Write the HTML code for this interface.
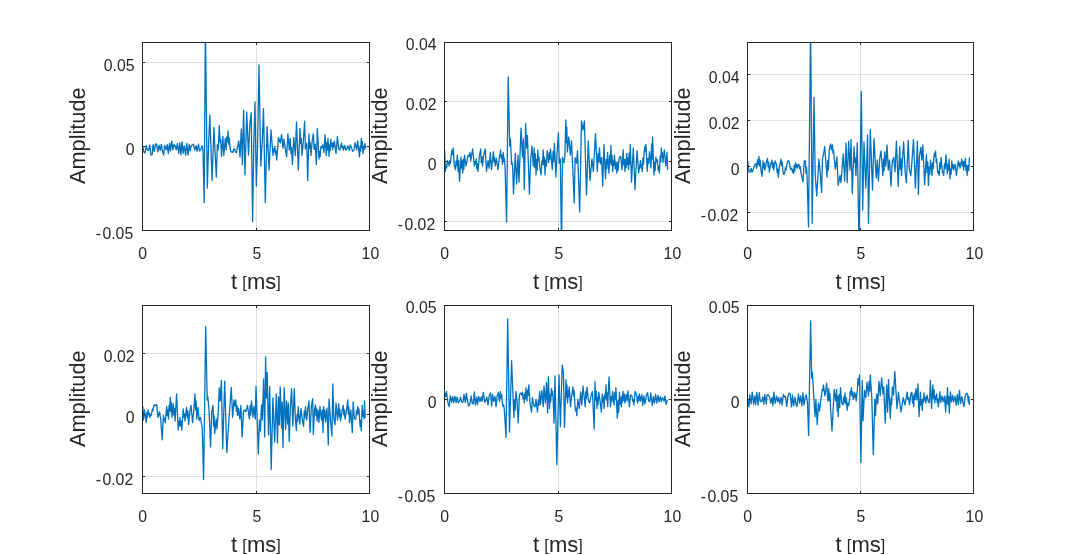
<!DOCTYPE html>
<html lang="en"><head><meta charset="utf-8"><title>Amplitude vs t [ms]</title>
<style>html,body{margin:0;padding:0;background:#fff;overflow:hidden}svg{display:block}</style></head>
<body>
<svg width="1076" height="555" viewBox="0 0 1076 555">
<rect width="1076" height="555" fill="#fff"/>
<clipPath id="c0"><rect x="142.5" y="42.5" width="227.0" height="188.0"/></clipPath>
<path d="M142.5 62.5H369.5M142.5 146.5H369.5M256.5 42.5V230.5" stroke="#dfdfdf" stroke-width="1" fill="none"/>
<path d="M142.8,147 143.9,152.1 145.1,153 146.1,145.5 147.3,149.8 148.6,150.4 149.8,145 150.9,155.2 152.2,154.3 153.1,144.5 154.2,151.4 155.6,143.8 156.5,143.8 157.9,151.9 159,145.2 160.3,150.4 161.3,144.3 162.6,151.6 163.6,155.2 164.7,145.4 166.1,149.9 167.3,144.6 168.3,153.6 169.6,143.3 170.4,150.8 171.8,141.2 172.9,150 173.9,144.6 175,145.8 176.2,149.8 177.4,143.5 178.7,153.5 179.8,142.9 180.9,154.9 182,141.7 183.2,153.4 184.3,145.9 185.6,155.2 186.8,143.5 188,155.2 189.3,144.3 190.2,150.8 191.2,145.5 192.5,144.9 193.5,144.1 194.7,150.2 196.1,145.7 197.1,151.3 198.5,144.1 199.5,150.9 200.6,149.9 202,145.9 203,150 204.2,202.6 205.4,25 207.3,188 208.6,144.7 209.8,115 212.1,180.7 213.9,127.5 215.1,152.1 216.3,177 217.4,144.6 218.2,149.9 219.3,125.7 220.1,142.7 220.7,139.3 221.5,156.4 222.9,136.5 223.8,155.5 225.3,138.3 226.2,150 226.8,137 227.4,141.8 228,131 228.7,144.1 229.3,137.9 230,148 230.9,151.9 232,152 232.9,152.4 233.7,149 234.6,148.9 235.5,152 236.5,152.6 237.3,148 238.8,141 240,157 241.3,129 242.4,164.5 243.6,110.4 245,175 246.7,112 248.5,155 249.8,125 251.2,112.6 252.6,221.7 253.8,144 255,102 256.3,186 257.6,144.4 259,65 260.8,166 262.3,140.3 263.5,108.6 265.3,202.6 267.1,126.6 269.1,170 271,130 273,155.5 273.7,148.7 274.2,151.7 274.9,146.5 275.5,154.4 276.1,150.9 276.7,160 278.5,137.4 279.1,141.3 279.7,139.6 280.3,143 281.6,134.7 283,148.3 283.9,139.2 285.4,148.9 286.6,157 287.9,133.8 289.3,150 290.2,138.3 291,153.6 291.6,147.6 292.4,164.5 293.8,137.4 295.3,155.5 296.5,122 298.3,170 300,128.4 300.7,143.7 301.3,138.4 302,155.5 303.2,143.3 304.6,121.2 305.4,149.2 306.8,143.1 307.7,180.7 309,134 309.7,148.4 310.3,142.5 311,155.5 312.3,139.8 313.3,133.8 314.2,149.3 315.2,144.1 316.4,164.5 317.3,128.4 319,159 319.7,151.5 320.2,156.4 320.9,146.5 321.6,148 322.7,144.6 324,152.4 325,134.7 326.3,155.5 326.9,142.1 327.4,150.2 328,138.3 329,156.4 329.6,144.8 330.2,150.8 330.8,139.2 331.4,146.4 332,142.8 332.6,150 333.2,142.9 333.8,146.6 334.4,141 336,153.7 337.4,136.5 338.7,149.1 339.8,150 341.6,143 342.2,147.8 342.8,146.1 343.4,150 344.7,145.3 345.8,150.1 346.8,149 347.9,146 349.3,150.5 350.3,144.9 351.4,147.4 352.6,151.4 354,150 355.1,142.6 356.7,149.9 357.7,141 359.5,157 360.1,146.1 360.7,151.2 361.3,138.3 361.9,147.7 362.4,141.7 363,153.7 363.7,146.2 364.2,149.5 364.9,143.7 365.8,148.3" clip-path="url(#c0)" stroke="#0072bd" stroke-width="1.3" fill="none" stroke-linejoin="round"/>
<rect x="142.5" y="42.5" width="227.0" height="188.0" fill="none" stroke="#262626" stroke-width="1"/>
<path d="M256.5 230.5v-2.6M256.5 42.5v2.6M142.5 62.5h2.6M369.5 62.5h-2.6M142.5 146.5h2.6M369.5 146.5h-2.6" stroke="#262626" stroke-width="1" fill="none"/>
<text x="134.5" y="70.9" text-anchor="end" font-family="'Liberation Sans', sans-serif" font-size="15.8" fill="#262626">0.05</text>
<text x="134.5" y="154.8" text-anchor="end" font-family="'Liberation Sans', sans-serif" font-size="15.8" fill="#262626">0</text>
<text x="133.2" y="238.7" text-anchor="end" font-family="'Liberation Sans', sans-serif" font-size="15.8" fill="#262626">-<tspan dx="1.4">0.05</tspan></text>
<text x="142.6" y="259.1" text-anchor="middle" font-family="'Liberation Sans', sans-serif" font-size="15.8" fill="#262626">0</text>
<text x="256.8" y="259.1" text-anchor="middle" font-family="'Liberation Sans', sans-serif" font-size="15.8" fill="#262626">5</text>
<text x="370.4" y="259.1" text-anchor="middle" font-family="'Liberation Sans', sans-serif" font-size="15.8" fill="#262626">10</text>
<text x="255.9" y="288.9" text-anchor="middle" font-family="'Liberation Sans', sans-serif" font-size="22" fill="#262626">t <tspan font-size="16.2" dy="-1.3" dx="-1.1">[</tspan><tspan dy="1.3" dx="0.3">ms</tspan><tspan font-size="16.2" dy="-1.3">]</tspan></text>
<text transform="translate(85 135.7) rotate(-90)" text-anchor="middle" font-family="'Liberation Sans', sans-serif" font-size="21.7" fill="#262626">Amplitude</text>
<clipPath id="c1"><rect x="444.5" y="42.5" width="227.0" height="188.0"/></clipPath>
<path d="M444.5 101.5H671.5M444.5 161.5H671.5M444.5 221.5H671.5M558.5 42.5V230.5" stroke="#dfdfdf" stroke-width="1" fill="none"/>
<path d="M444.7,150.7 445.3,171.5 446.1,165.2 446.6,167.9 447.4,160.6 448,163.7 448.6,161.9 449.2,166 449.8,160.6 450.4,163.5 451,157 451.8,150.3 452.4,154.5 453.2,148 454.2,164.9 455.5,169.7 456.1,161.1 456.7,165.5 457.3,155.2 458.1,171.3 458.7,160.5 459.5,181.4 461,157 461.6,168 462.1,161 462.7,173 463.3,159.1 463.9,169 464.5,155.2 466,166 468.1,155.2 469,156.3 470,152.5 470.8,160.6 472.6,149 474.4,166 475,161.7 475.6,164.1 476.2,158.8 476.8,168.6 477.4,163.7 478,171.5 479.4,155.7 480.7,149 481.3,162.6 481.9,156.6 482.5,166 483.7,154.8 485.2,149 486.5,171.5 488,160.6 489.1,168.2 490.3,152.5 491.5,169.7 493.4,151.6 494,161.8 494.6,157.6 495.2,166 496.4,158.5 497.9,169.7 499.3,158.3 500.6,149.8 501.2,158 501.8,155.1 502.4,164.3 503.3,152.5 503.9,161.6 504.4,158.5 505,166 506.6,222 508.2,77 509.7,146 510.5,139 511.6,164.3 512.5,163.3 513.5,194 515.3,153.4 516.6,184 518,155.2 519,182.3 521,128.2 522.5,157 523.4,139 524.3,189.5 525.6,123.7 526.7,148 527.4,135.4 529.4,194 530.7,159 532,146 533.3,166 534.2,148 534.8,167.5 535.4,153.7 536,175 536.6,159.6 537.2,170 537.8,150 538.4,160.1 539,157.1 539.6,166 541,175 541.8,161 542.4,164.5 543.2,150 543.8,164.9 544.4,157.1 545,175 545.8,159.9 546.4,166.2 547.2,150.7 548.6,162.5 549.3,152.5 549.8,159.5 550.5,149 552.3,169.7 553.1,151.4 553.6,161.9 554.4,143.5 555.9,177 557,154.5 558.4,132.7 559.3,163.2 560.3,158.8 561.5,245 562.5,157.1 563.8,162.9 564.8,157.7 565.8,120 566.4,142.6 566.8,127.1 567.4,152 568.8,137 570.4,155 571.5,141 572.7,166.7 574.2,203 575.1,157.7 576.5,163.2 577.5,150.7 579.7,212 581.5,121 583,130 584.4,121 586.5,195 588.3,140.8 590,180.5 591.9,159 593.4,171.5 595.5,133.6 597.3,171.5 598.1,153.3 598.7,162.2 599.5,148 600.4,163.9 601.6,157.4 602.7,186 604,144.4 605.5,178.7 606.3,159.3 606.8,168.7 607.6,152.5 609,173 609.7,155.8 610.2,163.2 610.9,145.3 611.5,165.1 612.1,155.2 612.7,171.5 613.3,160.8 613.9,165.4 614.5,155.2 615.3,169 616,162.1 616.8,173 617.6,162.5 618.2,170.1 619,159 620,156.4 620.8,157 622,169.7 623.2,150 623.8,165.2 624.4,159.5 625,171.5 625.6,159.5 626.1,167.7 626.7,153.4 627.3,164.5 627.9,157.7 628.5,169.7 629.1,152.9 629.7,164.2 630.3,144.4 631.5,182 633.3,148 635,189.5 637,150.7 638.7,173 640.5,160.6 641.1,168 641.7,164.8 642.3,171.5 642.9,157.9 643.5,164.1 644.1,153.4 644.8,146.7 645.3,151.1 646,144.4 647.2,171.5 648,158.3 648.7,163.3 649.5,151.6 651,167.9 651.6,143.9 652,159.5 652.6,137 654,175 654.7,162.3 655.2,170.5 655.9,157 656.5,161.6 657.1,159.6 657.7,164.3 658.3,170.4 658.9,166.3 659.5,173 660.1,156.2 660.7,161.9 661.3,148 661.9,156.8 662.4,152.7 663,162.5 664.3,149.8 665.8,166 667,152.5 667.6,169.7" clip-path="url(#c1)" stroke="#0072bd" stroke-width="1.3" fill="none" stroke-linejoin="round"/>
<rect x="444.5" y="42.5" width="227.0" height="188.0" fill="none" stroke="#262626" stroke-width="1"/>
<path d="M558.5 230.5v-2.6M558.5 42.5v2.6M444.5 101.5h2.6M671.5 101.5h-2.6M444.5 161.5h2.6M671.5 161.5h-2.6M444.5 221.5h2.6M671.5 221.5h-2.6" stroke="#262626" stroke-width="1" fill="none"/>
<text x="436.5" y="50" text-anchor="end" font-family="'Liberation Sans', sans-serif" font-size="15.8" fill="#262626">0.04</text>
<text x="436.5" y="110.1" text-anchor="end" font-family="'Liberation Sans', sans-serif" font-size="15.8" fill="#262626">0.02</text>
<text x="436.5" y="170.1" text-anchor="end" font-family="'Liberation Sans', sans-serif" font-size="15.8" fill="#262626">0</text>
<text x="435.2" y="230.1" text-anchor="end" font-family="'Liberation Sans', sans-serif" font-size="15.8" fill="#262626">-<tspan dx="1.4">0.02</tspan></text>
<text x="444.6" y="259.1" text-anchor="middle" font-family="'Liberation Sans', sans-serif" font-size="15.8" fill="#262626">0</text>
<text x="558.8" y="259.1" text-anchor="middle" font-family="'Liberation Sans', sans-serif" font-size="15.8" fill="#262626">5</text>
<text x="672.4" y="259.1" text-anchor="middle" font-family="'Liberation Sans', sans-serif" font-size="15.8" fill="#262626">10</text>
<text x="557.9" y="288.9" text-anchor="middle" font-family="'Liberation Sans', sans-serif" font-size="22" fill="#262626">t <tspan font-size="16.2" dy="-1.3" dx="-1.1">[</tspan><tspan dy="1.3" dx="0.3">ms</tspan><tspan font-size="16.2" dy="-1.3">]</tspan></text>
<text transform="translate(387 135.7) rotate(-90)" text-anchor="middle" font-family="'Liberation Sans', sans-serif" font-size="21.7" fill="#262626">Amplitude</text>
<clipPath id="c2"><rect x="747.5" y="42.5" width="226.0" height="188.0"/></clipPath>
<path d="M747.5 74.5H973.5M747.5 120.5H973.5M747.5 166.5H973.5M747.5 212.5H973.5M860.5 42.5V230.5" stroke="#dfdfdf" stroke-width="1" fill="none"/>
<path d="M747.7,161 749,172 750.1,172 751.3,168.3 752.1,172.2 753.1,170 754.9,164.6 755.9,163.7 756.7,168.3 757.5,159.6 758.2,164.6 759,156.5 759.7,166.1 760.2,160.2 760.9,170 762,176.4 763,161 763.6,168 764.2,163.1 764.8,170 766.2,163.1 767.5,158.3 768.1,167 768.7,162.1 769.3,172 770.6,164.7 772,160 772.6,167.9 773.2,162.7 773.8,170 775.1,161 776.5,164.6 777.1,172.5 777.7,168.9 778.3,177.3 779.6,165.3 781,159.2 781.6,165.6 782.2,161.8 782.8,170 783.6,174.3 784.6,173.7 785.4,167.9 786,170.2 786.8,164.6 787.9,160.9 789,161 790.6,169.4 791.8,168.3 792.4,172 793,169.8 793.6,173.7 794.2,165.5 794.8,171 795.4,162.8 796,167 796.6,164.4 797.2,168.3 798.2,164.3 799,164.6 799.6,168.8 800.2,166.6 800.8,172 803,181.8 804.2,161 805.4,161 806,173.2 806.6,167.4 807.2,179 808.5,227 810.6,25 812.2,223.6 814,97.5 815.2,174.2 816.7,196 818.9,159.2 820.2,172.9 821.6,192.5 822.5,158.3 823.6,154 824.7,146.6 827,177 827.8,160.3 828.4,169.9 829.2,150 830.6,144 831.5,150 832.4,144.8 833,153.1 833.6,150.3 834.2,157.4 835.4,169.1 836.9,157 838.2,185.4 840,175.5 841,182.7 843.2,153.8 844.7,181 846,143 847.2,182.7 848.6,141.2 850,170 851,139.4 852.3,193.5 854,146.6 854.7,162.7 855.2,157.5 855.9,175.5 857.3,143 859,245 861.3,91.3 862.7,210 864,142 865.8,188 867.6,135 868.5,223.6 870.3,129.5 872.5,190 874,138.5 876.2,178 877.3,160 878.4,181 879.7,158.9 881,151 882.9,175.5 883.5,159.1 884.1,170.8 884.7,152 885.8,166 887,145 888.3,170 889.5,160 891,186.3 892.3,161.2 893.7,157.4 895,171.9 896.4,141.2 898.2,186.3 899.7,146.6 900.3,169.2 900.9,158.3 901.5,175.5 903.6,142 905.2,172.6 906.4,182.7 908.2,140.3 909.3,169.2 910.8,175.5 912.1,159.6 913.5,139.4 915.4,188 917.4,141.2 918.4,194.4 919.4,156.3 920.8,147.5 921.8,160 922.8,145 924.6,184.5 926.4,154.7 927.1,172.4 927.7,162 928.4,185.4 929.2,167.1 929.7,174.3 930.5,160 932,175.5 932.6,163 933.2,168.7 933.8,158 934.4,153.2 935,156.5 935.6,151 936.2,162.6 936.8,159.2 937.4,170 938,173.4 938.6,171.3 939.2,175.5 939.8,162.7 940.4,168.7 941,157.4 942.3,170.8 943.7,175.5 944.5,163.7 945.2,168.6 946,154.7 947.3,173.7 947.9,164.3 948.5,170 949.1,159.2 950,179 950.6,169.1 951.2,174 951.8,161 952.4,168.1 953,164.3 953.6,170 955.1,164.2 956.4,175.5 958.2,161 958.8,165.4 959.4,162.9 960,168.3 961.8,159.2 962.4,166 963,161.4 963.6,170 964.2,161.6 964.8,166.4 965.4,158.3 966,170.6 966.6,165.7 967.2,175.5 968,165.4 968.7,170.4 969.5,157.4" clip-path="url(#c2)" stroke="#0072bd" stroke-width="1.3" fill="none" stroke-linejoin="round"/>
<rect x="747.5" y="42.5" width="226.0" height="188.0" fill="none" stroke="#262626" stroke-width="1"/>
<path d="M860.5 230.5v-2.6M860.5 42.5v2.6M747.5 74.5h2.6M973.5 74.5h-2.6M747.5 120.5h2.6M973.5 120.5h-2.6M747.5 166.5h2.6M973.5 166.5h-2.6M747.5 212.5h2.6M973.5 212.5h-2.6" stroke="#262626" stroke-width="1" fill="none"/>
<text x="739.5" y="83.1" text-anchor="end" font-family="'Liberation Sans', sans-serif" font-size="15.8" fill="#262626">0.04</text>
<text x="739.5" y="129.1" text-anchor="end" font-family="'Liberation Sans', sans-serif" font-size="15.8" fill="#262626">0.02</text>
<text x="739.5" y="175.1" text-anchor="end" font-family="'Liberation Sans', sans-serif" font-size="15.8" fill="#262626">0</text>
<text x="738.2" y="220.9" text-anchor="end" font-family="'Liberation Sans', sans-serif" font-size="15.8" fill="#262626">-<tspan dx="1.4">0.02</tspan></text>
<text x="747.6" y="259.1" text-anchor="middle" font-family="'Liberation Sans', sans-serif" font-size="15.8" fill="#262626">0</text>
<text x="860.8" y="259.1" text-anchor="middle" font-family="'Liberation Sans', sans-serif" font-size="15.8" fill="#262626">5</text>
<text x="974.4" y="259.1" text-anchor="middle" font-family="'Liberation Sans', sans-serif" font-size="15.8" fill="#262626">10</text>
<text x="860.4" y="288.9" text-anchor="middle" font-family="'Liberation Sans', sans-serif" font-size="22" fill="#262626">t <tspan font-size="16.2" dy="-1.3" dx="-1.1">[</tspan><tspan dy="1.3" dx="0.3">ms</tspan><tspan font-size="16.2" dy="-1.3">]</tspan></text>
<text transform="translate(690 135.7) rotate(-90)" text-anchor="middle" font-family="'Liberation Sans', sans-serif" font-size="21.7" fill="#262626">Amplitude</text>
<clipPath id="c3"><rect x="142.5" y="305.5" width="227.0" height="188.0"/></clipPath>
<path d="M142.5 353.5H369.5M142.5 414.5H369.5M142.5 476.5H369.5M256.5 305.5V493.5" stroke="#dfdfdf" stroke-width="1" fill="none"/>
<path d="M142.8,406.4 143.5,420 144.5,410 146.3,422.7 146.9,412.5 147.5,417.2 148.1,410 148.7,414.4 149.3,413.2 149.9,417.3 150.5,414.7 151.1,415.6 151.7,412.7 152.3,409.2 152.9,411.2 153.5,407.3 154.3,404.8 155.3,405.5 156.6,404.6 158,417.3 159.5,411.8 160.7,419 162.2,439.8 163.4,415.5 164,420.2 164.6,418.5 165.2,422.7 166.7,406.4 167.3,415.7 167.9,410.1 168.5,419 169.1,405.5 169.7,410.3 170.3,397.4 170.9,411.9 171.4,402.4 172,417.3 173.3,403.7 173.9,415.1 174.5,408.5 175.1,420.9 176.6,393.8 178.2,430 178.8,421.5 179.4,425.5 180,417.3 180.6,426.3 181.2,421.1 181.8,430 183.2,409 183.8,416.9 184.4,413.8 185,420.9 186.5,407.3 187.3,417.6 187.8,411 188.6,424.5 189.8,411.6 191,405.5 192.6,422.7 193.7,411.4 195,393.8 195.6,409.9 196.2,401 196.8,419 198,407.3 199.1,420.5 200.4,417.3 202.2,428 203.6,479.6 205.7,326.7 207.2,400 207.8,396.5 209,410 210.6,447 211.7,411.9 213,405.5 213.6,426.1 214.1,415.9 214.7,433.5 216.2,419 217,429 218.3,410.9 219.3,387.8 220.2,401 221.4,380.3 222.7,448.8 224.7,381.2 226.8,452.4 229,419 230.1,403.7 231.3,387.5 232.6,417.3 234,400 235,406 235.8,400 236.4,411.3 237,405.4 237.6,415.5 238.5,408.2 239.8,419 240.9,405.5 242.1,437 243.5,411 244.5,410 245.8,411.8 247.5,405.5 249.4,419 250.2,405.4 250.7,414.9 251.5,401 253,417.3 253.9,406.4 255.3,419 256,386.3 257.1,416.3 258.3,454 259.5,420 260.4,431 261.5,405 262.3,420 263.6,379 264.7,437 265.6,357 266.4,398 267.2,372.3 268.5,435 269.7,386.7 271.2,469.5 272.9,397.6 274.7,442.3 276.3,394 277.5,443 278.5,397 279.3,425 280.2,386.8 281.5,428 282.2,402 283,447.7 284.2,387.7 285.6,429.6 286.5,401 287.6,424 288.3,403 289.2,441.4 290.4,406 291.6,388.6 292.8,426 294.3,388.6 295.4,420 296.4,430.5 297,414.6 297.6,421.1 298.2,406.7 299.7,424.2 301,408.5 302.3,420 303.6,426 304.3,411 304.8,418.2 305.5,406.7 306.8,420 307.9,408 309,401 310,432.3 311.5,405 312.7,398.6 313.3,434.4 314.5,410 315.4,404.9 316,415.8 316.4,408.2 317,421 318,410 319,422.4 319.9,406.7 321.5,420 322.3,410 323,432.6 323.7,406.4 324.3,417.7 324.9,410.1 325.5,422 327,408 328.3,445 329,399 330.5,420 331.9,436 332.8,384 333.8,418 335.1,424.5 336,402.8 337.5,420 338.7,403.7 339.3,416.9 339.9,409.1 340.5,420.9 342,411.1 343.2,405.5 343.8,414.9 344.4,409.9 345,419 346.5,410.6 347.7,400 348.3,413.4 348.9,406.9 349.5,422.7 350.8,410 352.3,432.6 353.2,402 354.4,418.8 355.9,419 356.5,410.6 357.1,414.8 357.7,406.4 358.3,413.4 358.9,408.8 359.5,417 360.1,426.7 360.7,420.5 361.3,430.8 362.2,405.5 362.8,416.3 363.4,411.5 364,419 364.5,401 365.2,418" clip-path="url(#c3)" stroke="#0072bd" stroke-width="1.3" fill="none" stroke-linejoin="round"/>
<rect x="142.5" y="305.5" width="227.0" height="188.0" fill="none" stroke="#262626" stroke-width="1"/>
<path d="M256.5 493.5v-2.6M256.5 305.5v2.6M142.5 353.5h2.6M369.5 353.5h-2.6M142.5 414.5h2.6M369.5 414.5h-2.6M142.5 476.5h2.6M369.5 476.5h-2.6" stroke="#262626" stroke-width="1" fill="none"/>
<text x="134.5" y="362" text-anchor="end" font-family="'Liberation Sans', sans-serif" font-size="15.8" fill="#262626">0.02</text>
<text x="134.5" y="423.1" text-anchor="end" font-family="'Liberation Sans', sans-serif" font-size="15.8" fill="#262626">0</text>
<text x="133.2" y="484.6" text-anchor="end" font-family="'Liberation Sans', sans-serif" font-size="15.8" fill="#262626">-<tspan dx="1.4">0.02</tspan></text>
<text x="142.6" y="522.1" text-anchor="middle" font-family="'Liberation Sans', sans-serif" font-size="15.8" fill="#262626">0</text>
<text x="256.8" y="522.1" text-anchor="middle" font-family="'Liberation Sans', sans-serif" font-size="15.8" fill="#262626">5</text>
<text x="370.4" y="522.1" text-anchor="middle" font-family="'Liberation Sans', sans-serif" font-size="15.8" fill="#262626">10</text>
<text x="255.9" y="551.9" text-anchor="middle" font-family="'Liberation Sans', sans-serif" font-size="22" fill="#262626">t <tspan font-size="16.2" dy="-1.3" dx="-1.1">[</tspan><tspan dy="1.3" dx="0.3">ms</tspan><tspan font-size="16.2" dy="-1.3">]</tspan></text>
<text transform="translate(85 398.7) rotate(-90)" text-anchor="middle" font-family="'Liberation Sans', sans-serif" font-size="21.7" fill="#262626">Amplitude</text>
<clipPath id="c4"><rect x="444.5" y="305.5" width="227.0" height="188.0"/></clipPath>
<path d="M444.5 399.5H671.5M558.5 305.5V493.5" stroke="#dfdfdf" stroke-width="1" fill="none"/>
<path d="M444.7,398 445.3,393.7 445.9,396 446.5,391.3 447.7,401.8 449.2,406.7 450.3,395.7 451.6,402 452.7,396.6 453.7,402.9 454.9,396.4 456.2,402.6 457,397.2 458.4,402.8 459.5,401 460.5,397.1 461.7,402.2 463,402.2 464,394.3 465.3,402.3 466.4,393.4 467.5,401 468.6,406.2 469.9,403.9 471.1,396 472.2,403.3 473.1,403.9 474.4,392 475.3,405 476.6,397.1 477.5,404.6 478.7,396.4 480,401.6 481.2,396.8 482,401.3 483.3,392.4 484.7,402.2 485.5,401.4 486.8,397 488,405 489.2,395.8 490.6,393 491.6,406.2 492.6,394.5 493.7,401.3 495,396.3 496,406.7 497.2,395.6 498.4,392.3 499.4,401.6 500.5,391.3 501.2,398.2 501.7,394.6 502.4,403 503,406.3 503.6,404.9 504.2,408.5 506,437.3 507.7,318.8 509.5,432 511.6,360.7 513.9,417.5 514.6,399.7 515.2,410.2 515.9,391.3 517.1,401.2 518.2,423 519.5,394.4 520.7,393 521.8,395.3 522.5,392.2 523.1,398.7 523.7,395.1 524.3,403 524.9,393 525.4,398.5 526,387.7 527,401 527.6,390.2 528.2,395.3 528.8,385 530,403.2 531.5,412 532.4,397.6 533.8,405.7 535.1,406.7 536,399.5 537.5,412 538.3,400.3 538.8,404.9 539.6,391.3 540.5,404.9 541.8,390.4 543.2,406.7 544,386 545.4,403 546.5,382.3 547.6,413 548.4,377 549.5,408.5 550.2,395 550.7,401.9 551.4,388.6 552,395.4 552.6,391.1 553.2,399.5 554,423 555,376 556.8,464.7 559,375 560.4,426.5 562.2,365.2 563.4,371.5 564.5,427.4 566,379.6 566.6,397.3 567,385.2 567.6,403 568.2,390.8 568.6,396.9 569.2,386.8 570.6,406.7 571.7,395 573,386.8 573.6,396 574.2,390.6 574.8,403 575.5,410.8 576.1,408.1 576.8,415.7 577.8,399.5 579.3,408.5 580.7,392 581.8,405 583,386 585.2,406.7 585.8,391.7 586.4,398.3 587,386.8 588.5,401 589.7,403 591.2,395.1 592.4,391.3 594.2,429.2 595,381.4 595.7,400.2 596.3,390.9 597,408.5 597.6,397.5 598.1,404.6 598.7,392.2 600.1,401.5 601.4,412 602.3,394 602.9,402.2 603.5,397 604.1,408.5 604.8,394.6 605.3,398.4 606,385 606.6,400.3 607.1,392.9 607.7,406.7 609,377 610.5,406.7 611.3,396.6 611.8,401.6 612.6,391.3 614,404.9 614.7,392.7 615.2,399.7 615.9,387.7 617.3,418 618.1,400.5 618.7,412.4 619.5,392.2 620.1,403.8 620.7,397.7 621.3,406.7 621.9,396.2 622.4,402.2 623,391.3 623.7,400.4 624.2,393.9 624.9,403 626.1,394.3 627,401 628,391 629.4,406.7 630.6,394.8 632,395.8 632.7,401.2 633.2,399.9 633.9,404.9 635.1,391.3 636.6,395 637.5,403 638.1,396.6 638.7,400.9 639.3,394 640.4,401.1 641.8,394.3 642.6,405.5 643.9,395.9 644.9,404.2 646.5,395.2 647.6,392.7 648.7,401.1 649.8,401.6 650.8,392.9 652.3,405.4 653.4,396.7 654.5,403 655.6,394.3 656.7,403.2 658,395.3 659.1,401.9 660.3,396.6 661.4,401.6 662.5,397.6 664,401 665,396 666.1,404.3 667.3,400" clip-path="url(#c4)" stroke="#0072bd" stroke-width="1.3" fill="none" stroke-linejoin="round"/>
<rect x="444.5" y="305.5" width="227.0" height="188.0" fill="none" stroke="#262626" stroke-width="1"/>
<path d="M558.5 493.5v-2.6M558.5 305.5v2.6M444.5 399.5h2.6M671.5 399.5h-2.6" stroke="#262626" stroke-width="1" fill="none"/>
<text x="436.5" y="313" text-anchor="end" font-family="'Liberation Sans', sans-serif" font-size="15.8" fill="#262626">0.05</text>
<text x="436.5" y="408.1" text-anchor="end" font-family="'Liberation Sans', sans-serif" font-size="15.8" fill="#262626">0</text>
<text x="435.2" y="501.5" text-anchor="end" font-family="'Liberation Sans', sans-serif" font-size="15.8" fill="#262626">-<tspan dx="1.4">0.05</tspan></text>
<text x="444.6" y="522.1" text-anchor="middle" font-family="'Liberation Sans', sans-serif" font-size="15.8" fill="#262626">0</text>
<text x="558.8" y="522.1" text-anchor="middle" font-family="'Liberation Sans', sans-serif" font-size="15.8" fill="#262626">5</text>
<text x="672.4" y="522.1" text-anchor="middle" font-family="'Liberation Sans', sans-serif" font-size="15.8" fill="#262626">10</text>
<text x="557.9" y="551.9" text-anchor="middle" font-family="'Liberation Sans', sans-serif" font-size="22" fill="#262626">t <tspan font-size="16.2" dy="-1.3" dx="-1.1">[</tspan><tspan dy="1.3" dx="0.3">ms</tspan><tspan font-size="16.2" dy="-1.3">]</tspan></text>
<text transform="translate(387 398.7) rotate(-90)" text-anchor="middle" font-family="'Liberation Sans', sans-serif" font-size="21.7" fill="#262626">Amplitude</text>
<clipPath id="c5"><rect x="747.5" y="305.5" width="226.0" height="188.0"/></clipPath>
<path d="M747.5 399.5H973.5M860.5 305.5V493.5" stroke="#dfdfdf" stroke-width="1" fill="none"/>
<path d="M747.7,398.5 749,406.9 749.8,394.6 751.2,403.8 752.2,392.1 753.6,404.2 754.8,395.9 755.6,404.7 756.8,392.4 758,405.1 759.3,392.6 760.3,401.7 761.7,401.4 762.8,397 763.8,404.1 764.7,394.7 766.3,403.9 767,395.1 768.2,394.6 769.7,397.5 770.7,403.2 772,397.5 772.9,405.8 773.9,392.1 775.1,403.3 776.5,396.2 777.6,401.6 778.7,397.5 779.7,403.9 781.2,397.2 782.1,405.1 783.4,394.3 784.5,397 785.6,396.5 786.7,406.5 787.9,396.5 789,393.1 790.3,394.3 791.5,406.9 792.5,394.9 793.6,405.7 795,397.3 796,404.6 797,406.7 798.4,394 799.5,403 800.6,395.9 801.9,405.9 802.9,392.7 804,405 805.3,396.9 806.3,395 807.5,402.7 808.6,435.5 810.6,321 811.7,378 812.4,372.4 813.5,392.2 815,416.6 815.9,399.5 817.2,424.7 818.4,403 819.5,411 821.5,395 822.2,389.5 822.7,390.9 823.4,385 824.9,395.8 826.7,383.2 827.9,401 828.8,388.6 829.4,400.8 830,393.7 830.6,408.5 832,431 834.2,389.5 835.7,401 836.6,389.5 837.2,410.9 837.6,396.3 838.2,416.6 839,394.6 839.7,407.5 840.5,387.7 841.8,403 843.2,404.9 843.8,396.9 844.4,402.5 845,393 845.8,404.1 846.4,397.9 847.2,410.3 848,403.1 848.7,405.5 849.5,399.5 850.2,391.5 850.7,394.4 851.4,387.7 852,396 852.6,391.9 853.2,399.5 854.6,392.2 855.2,397.9 855.6,394.1 856.2,401 857.3,390.4 858.1,378.4 858.7,384.9 859.5,375 860.9,462.4 862.2,380.5 863,421 864.5,390.4 865.8,397.6 867,382.3 868.5,395.8 869.1,381.3 869.7,391.1 870.3,375 871.8,397.6 873.3,454.5 874.8,399.5 875.5,415.7 876.6,394.1 877.7,403.6 879,381.4 880.2,395.8 881.6,377.8 883,394 883.8,386.8 885.2,423 886.7,385 887.6,412 888.5,379.6 890.3,418.4 891.1,397.9 891.6,404.5 892.4,386.8 893.5,395 894.8,371.5 897,408.5 898.4,392.2 899.8,403.5 901,412 903.2,397.6 905,404.9 907.2,392.2 908,399.7 908.7,397.7 909.5,404.9 910.8,393.8 911.9,392.2 912.5,403.1 913.1,395.8 913.7,406.7 914.5,393.5 915.1,399.4 915.9,388.6 917,400 918,384 919,416.6 920.4,392.2 921,405.2 921.6,399.6 922.2,410.3 922.8,399 923.4,402.5 924,393 924.6,400.1 925.2,396.9 925.8,403 927,395 928.1,400.9 929.4,403 930.4,380.5 931.6,408.5 932.8,385 933.5,398.4 934.1,389.6 934.8,403 935.4,396.5 936,399 936.6,394 937.2,402.5 937.8,399.1 938.4,406.7 939.8,391.7 940.7,402.5 941.9,395.9 943.2,401.7 944.4,396.2 945.7,412 946.3,396.5 946.9,403.2 947.5,387.7 948.1,404.7 948.7,396.7 949.3,413 950.4,391.8 951.5,401.9 952.6,395.3 953.6,401.8 955.1,396.4 956.2,405.2 957.3,394.5 958.3,404.4 959.5,390.4 960.5,403.5 961.9,396.6 962.8,401.8 964,406.7 965.2,395.9 966.6,393.3 967.7,394 968.3,402.5 968.9,396.6 969.5,405" clip-path="url(#c5)" stroke="#0072bd" stroke-width="1.3" fill="none" stroke-linejoin="round"/>
<rect x="747.5" y="305.5" width="226.0" height="188.0" fill="none" stroke="#262626" stroke-width="1"/>
<path d="M860.5 493.5v-2.6M860.5 305.5v2.6M747.5 399.5h2.6M973.5 399.5h-2.6" stroke="#262626" stroke-width="1" fill="none"/>
<text x="739.5" y="313" text-anchor="end" font-family="'Liberation Sans', sans-serif" font-size="15.8" fill="#262626">0.05</text>
<text x="739.5" y="408.1" text-anchor="end" font-family="'Liberation Sans', sans-serif" font-size="15.8" fill="#262626">0</text>
<text x="738.2" y="501.5" text-anchor="end" font-family="'Liberation Sans', sans-serif" font-size="15.8" fill="#262626">-<tspan dx="1.4">0.05</tspan></text>
<text x="747.6" y="522.1" text-anchor="middle" font-family="'Liberation Sans', sans-serif" font-size="15.8" fill="#262626">0</text>
<text x="860.8" y="522.1" text-anchor="middle" font-family="'Liberation Sans', sans-serif" font-size="15.8" fill="#262626">5</text>
<text x="974.4" y="522.1" text-anchor="middle" font-family="'Liberation Sans', sans-serif" font-size="15.8" fill="#262626">10</text>
<text x="860.4" y="551.9" text-anchor="middle" font-family="'Liberation Sans', sans-serif" font-size="22" fill="#262626">t <tspan font-size="16.2" dy="-1.3" dx="-1.1">[</tspan><tspan dy="1.3" dx="0.3">ms</tspan><tspan font-size="16.2" dy="-1.3">]</tspan></text>
<text transform="translate(690 398.7) rotate(-90)" text-anchor="middle" font-family="'Liberation Sans', sans-serif" font-size="21.7" fill="#262626">Amplitude</text>
</svg>
</body></html>
